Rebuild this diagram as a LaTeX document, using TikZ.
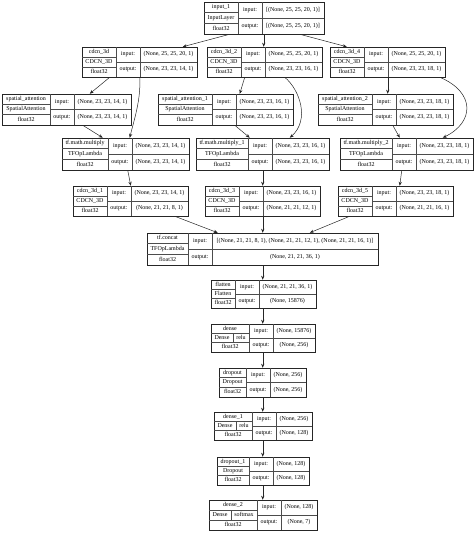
\documentclass[tikz,border=0pt]{standalone}
\usepackage{fontspec}
\setmainfont{Liberation Serif}
\usetikzlibrary{arrows.meta,fit,calc}
\tikzset{
  kbox/.style={draw=black!85, line width=0.5pt, inner sep=0pt},
  kcell/.style={draw=black!70, line width=0.4pt},
  klbl/.style={font=\fontsize{6}{7}\selectfont, inner sep=0pt, anchor=center, text height=4.1pt, text depth=1.3pt},
  conn/.style={draw=black!85, line width=0.5pt, -{Stealth[length=4pt,width=3.2pt]}},
}
\def\ksetgeom#1,#2,#3,#4,#5,#6\relax{\def\kxa{#1}\def\kxb{#2}\def\kxc{#3}\def\kxd{#4}\def\kya{#5}\def\kyb{#6}}
% #1 id, #2 geometry xa,xb,xc,xd,ya,yb, #3 name, #4 class, #5 input, #6 output, #7 split x (or empty), #8 activation
\newcommand\klayer[8]{%
  \ksetgeom#2\relax
  \node[kbox, fit={(\kxa,\kya)(\kxd,\kyb)}] (#1) {};
  \draw[kcell] (\kxb,\kya) -- (\kxb,\kyb) (\kxc,\kya) -- (\kxc,\kyb);
  \draw[kcell] (\kxa,{\kya+(\kyb-\kya)/3}) -- (\kxb,{\kya+(\kyb-\kya)/3})
               (\kxa,{\kya+2*(\kyb-\kya)/3}) -- (\kxb,{\kya+2*(\kyb-\kya)/3});
  \draw[kcell] (\kxb,{(\kya+\kyb)/2}) -- (\kxd,{(\kya+\kyb)/2});
  \node[klbl] (#1-n) at ({(\kxa+\kxb)/2},{\kya+(\kyb-\kya)/6}) {#3};
  \if\relax\detokenize{#7}\relax
    \node[klbl] (#1-c) at ({(\kxa+\kxb)/2},{(\kya+\kyb)/2}) {#4};
  \else
    \draw[kcell] (#7,{\kya+(\kyb-\kya)/3}) -- (#7,{\kya+2*(\kyb-\kya)/3});
    \node[klbl] (#1-c) at ({(\kxa+#7)/2},{(\kya+\kyb)/2}) {#4};
    \node[klbl] (#1-a) at ({(#7+\kxb)/2},{(\kya+\kyb)/2}) {#8};
  \fi
  \node[klbl] (#1-t) at ({(\kxa+\kxb)/2},{\kya+5*(\kyb-\kya)/6}) {float32};
  \node[klbl] (#1-il) at ({(\kxb+\kxc)/2},{\kya+(\kyb-\kya)/4}) {input:};
  \node[klbl] (#1-ol) at ({(\kxb+\kxc)/2},{\kya+3*(\kyb-\kya)/4}) {output:};
  \node[klbl] (#1-iv) at ({(\kxc+\kxd)/2},{\kya+(\kyb-\kya)/4}) {#5};
  \node[klbl] (#1-ov) at ({(\kxc+\kxd)/2},{\kya+3*(\kyb-\kya)/4}) {#6};
}
\begin{document}
\begin{tikzpicture}[x=1pt,y=-1pt]
\useasboundingbox (0,0) rectangle (474,542);
% row 0
\klayer{in1}{204,238,262,324,2,34}{input\_1}{InputLayer}{[(None, 25, 25, 20, 1)]}{[(None, 25, 25, 20, 1)]}{}{}
% row 1
\klayer{c0}{82,116,140,197,47,77}{cdcn\_3d}{CDCN\_3D}{(None, 25, 25, 20, 1)}{(None, 23, 23, 14, 1)}{}{}
\klayer{c2}{207,241,265,322,47,77}{cdcn\_3d\_2}{CDCN\_3D}{(None, 25, 25, 20, 1)}{(None, 23, 23, 16, 1)}{}{}
\klayer{c4}{330,364,388,445,47,77}{cdcn\_3d\_4}{CDCN\_3D}{(None, 25, 25, 20, 1)}{(None, 23, 23, 18, 1)}{}{}
% row 2
\klayer{sa}{2,50,74,131,94,125}{spatial\_attention}{SpatialAttention}{(None, 23, 23, 14, 1)}{(None, 23, 23, 14, 1)}{}{}
\klayer{sa1}{158,212,236,293,94,125}{spatial\_attention\_1}{SpatialAttention}{(None, 23, 23, 16, 1)}{(None, 23, 23, 16, 1)}{}{}
\klayer{sa2}{318,372,396,453,94,125}{spatial\_attention\_2}{SpatialAttention}{(None, 23, 23, 18, 1)}{(None, 23, 23, 18, 1)}{}{}
% row 3
\klayer{m0}{62,108,132,189,138,170}{tf.math.multiply}{TFOpLambda}{(None, 23, 23, 14, 1)}{(None, 23, 23, 14, 1)}{}{}
\klayer{m1}{196,248,272,329,138,170}{tf.math.multiply\_1}{TFOpLambda}{(None, 23, 23, 16, 1)}{(None, 23, 23, 16, 1)}{}{}
\klayer{m2}{340,392,416,473,138,170}{tf.math.multiply\_2}{TFOpLambda}{(None, 23, 23, 18, 1)}{(None, 23, 23, 18, 1)}{}{}
% row 4
\klayer{c1}{73,107,131,188,186,216}{cdcn\_3d\_1}{CDCN\_3D}{(None, 23, 23, 14, 1)}{(None, 21, 21, 8, 1)}{}{}
\klayer{c3}{205,239,263,320,186,216}{cdcn\_3d\_3}{CDCN\_3D}{(None, 23, 23, 16, 1)}{(None, 21, 21, 12, 1)}{}{}
\klayer{c5}{338,372,396,453,186,216}{cdcn\_3d\_5}{CDCN\_3D}{(None, 23, 23, 18, 1)}{(None, 21, 21, 16, 1)}{}{}
% concat
\klayer{cc}{147,188,212,378,233,265}{tf.concat}{TFOpLambda}{[(None, 21, 21, 8, 1), (None, 21, 21, 12, 1), (None, 21, 21, 16, 1)]}{(None, 21, 21, 36, 1)}{}{}
% chain
\klayer{fl}{211,235,259,316,280,308}{flatten}{Flatten}{(None, 21, 21, 36, 1)}{(None, 15876)}{}{}
\klayer{dn}{211,249,273,315,324,352}{dense}{Dense}{(None, 15876)}{(None, 256)}{233}{relu}
\klayer{do}{219,246,270,306,368,397}{dropout}{Dropout}{(None, 256)}{(None, 256)}{}{}
\klayer{d1}{214,252,276,312,412,440}{dense\_1}{Dense}{(None, 256)}{(None, 128)}{236}{relu}
\klayer{o1}{217,249,273,309,457,485}{dropout\_1}{Dropout}{(None, 128)}{(None, 128)}{}{}
\klayer{d2}{209,257,281,317,500,530}{dense\_2}{Dense}{(None, 128)}{(None, 7)}{231}{softmax}
% connectors
\draw[conn] ([xshift=26pt]in1.south west) -- ([xshift=101pt]c0.north west);
\draw[conn] ([xshift=60pt]in1.south west) -- ([xshift=57pt]c2.north west);
\draw[conn] ([xshift=96pt]in1.south west) -- ([xshift=17pt]c4.north west);
\draw[conn] ([xshift=28pt]c0.south west) -- ([xshift=88pt]sa.north west);
\draw[conn] ([xshift=58pt]c0.south west) .. controls (141,100) and (134,120) .. ([xshift=68pt]m0.north west);
\draw[conn] ([xshift=81pt]sa.south west) -- ([xshift=41pt]m0.north west);
\draw[conn] ([xshift=38pt]c2.south west) -- ([xshift=82pt]sa1.north west);
\draw[conn] ([xshift=78pt]c2.south west) .. controls (300,90) and (310,120) .. ([xshift=94pt]m1.north west);
\draw[conn] ([xshift=77pt]sa1.south west) -- ([xshift=54pt]m1.north west);
\draw[conn] ([xshift=58pt]c4.south west) -- ([xshift=70pt]sa2.north west);
\draw[conn] ([xshift=110pt]c4.south west) .. controls (475,92) and (475,122) .. ([xshift=103pt]m2.north west);
\draw[conn] ([xshift=75pt]sa2.south west) -- ([xshift=60pt]m2.north west);
\draw[conn] ([xshift=66pt]m0.south west) -- ([xshift=58pt]c1.north west);
\draw[conn] ([xshift=67pt]m1.south west) -- ([xshift=58pt]c3.north west);
\draw[conn] ([xshift=62pt]m2.south west) -- ([xshift=62pt]c5.north west);
\draw[conn] ([xshift=102pt]c1.south west) -- ([xshift=71pt]cc.north west);
\draw[conn] ([xshift=58pt]c3.south west) -- ([xshift=116pt]cc.north west);
\draw[conn] ([xshift=12pt]c5.south west) -- ([xshift=163pt]cc.north west);
\draw[conn] ([xshift=116pt]cc.south west) -- ([xshift=52pt]fl.north west);
\draw[conn] ([xshift=52pt]fl.south west) -- ([xshift=52pt]dn.north west);
\draw[conn] ([xshift=52pt]dn.south west) -- ([xshift=44pt]do.north west);
\draw[conn] ([xshift=44pt]do.south west) -- ([xshift=49pt]d1.north west);
\draw[conn] ([xshift=49pt]d1.south west) -- ([xshift=46pt]o1.north west);
\draw[conn] ([xshift=46pt]o1.south west) -- ([xshift=54pt]d2.north west);
\end{tikzpicture}
\end{document}
